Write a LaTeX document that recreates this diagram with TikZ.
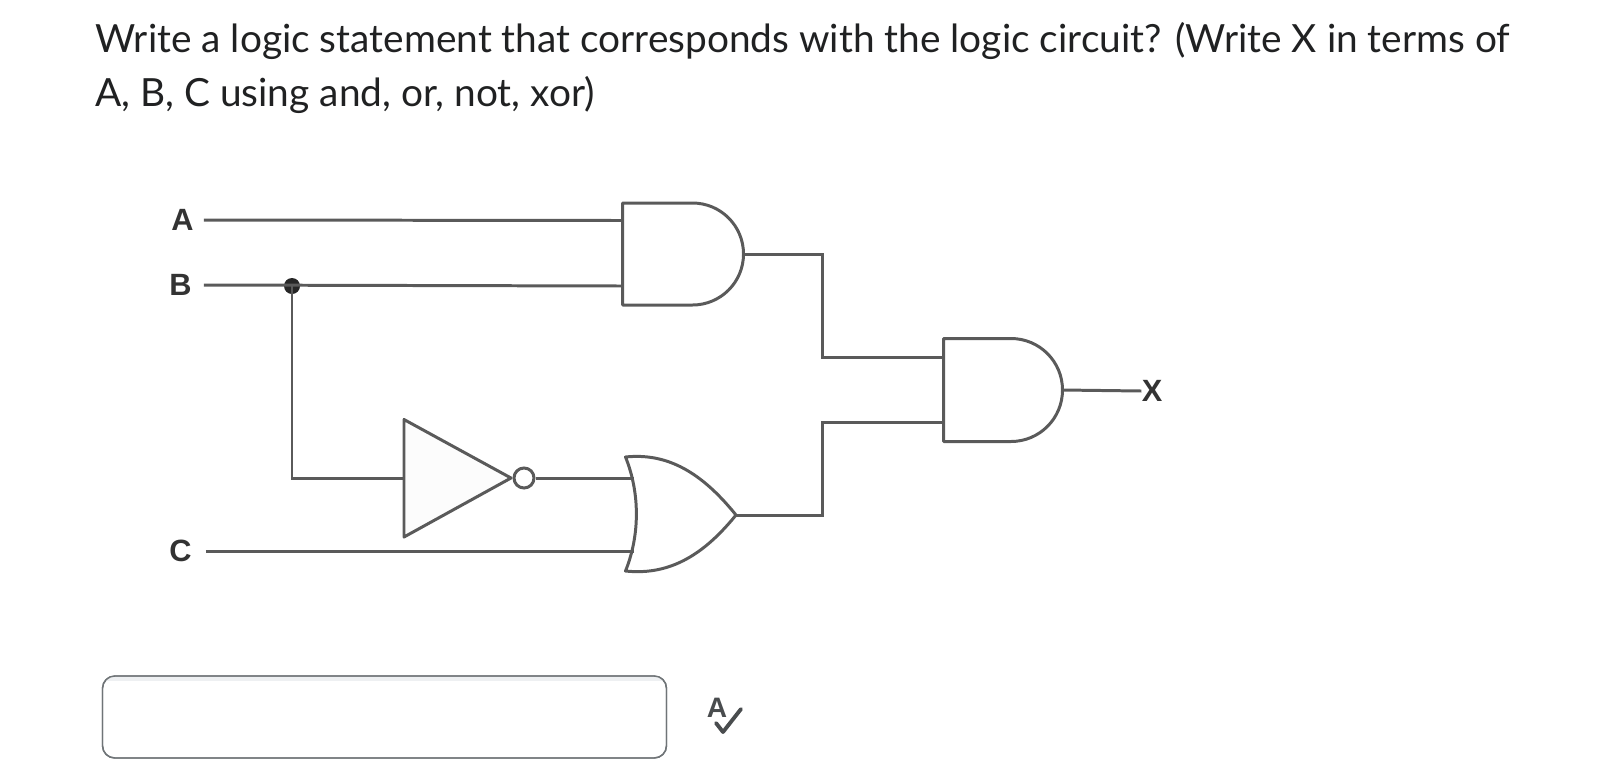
\documentclass[tikz,border=0pt]{standalone}
\usepackage{fontspec}
\setmainfont{Lato}
\newfontfamily\labelfont{Liberation Sans}
\usepackage{xcolor}
\definecolor{wirecol}{HTML}{5A5A5A}
\definecolor{inkcol}{HTML}{202122}
\definecolor{boxcol}{HTML}{6F7477}
\definecolor{shadecol}{HTML}{EEF0F2}
\definecolor{iconcol}{HTML}{494C4E}
\tikzset{
  wire/.style={color=wirecol, line width=1.7pt},
  gate/.style={color=wirecol, line width=1.7pt, line join=round},
  pinlabel/.style={font=\labelfont\bfseries\fontsize{17.5}{20}\selectfont, text=black!80, inner sep=0pt},
  question/.style={font=\fontsize{22.1}{26}\selectfont, text=inkcol, inner sep=0pt, anchor=base west}
}
\begin{document}
\begin{tikzpicture}[x=0.02cm,y=-0.02cm]
\useasboundingbox (0,0) rectangle (1608,768);

\node[question] (line1) at (95,52) {Write a logic statement that corresponds with the logic circuit? (Write X in terms of};
\node[question] (line2) at (95,106) {A, B, C using and, or, not, xor)};

\node[pinlabel] (a) at (182.5,220) {A};
\node[pinlabel] (b) at (180.5,285) {B};
\node[pinlabel] (c) at (180.5,551) {C};
\node[pinlabel] (x) at (1152,391) {X};

% first and gate
\draw[gate] (622.5,203) -- (692.5,203) arc (-90:90:51) -- (622.5,305) -- cycle;
\coordinate (and1a) at (622.5,220.5);
\coordinate (and1b) at (622.5,286);
\coordinate (and1y) at (743.5,254);

% second and gate
\draw[gate] (943.5,338.5) -- (1011,338.5) arc (-90:90:51.5) -- (943.5,441.5) -- cycle;
\coordinate (and2a) at (943.5,357);
\coordinate (and2b) at (943.5,422.5);
\coordinate (and2y) at (1062.5,390);

% or gate
\draw[gate] (625.5,457) .. controls (672,452) and (706,478) .. (736,515)
  .. controls (706,552) and (672,576) .. (625.5,571)
  .. controls (640,535) and (640,493) .. (625.5,457) -- cycle;
\coordinate (ora) at (634,478);
\coordinate (orb) at (634,551);
\coordinate (ory) at (736,515);

% inverter
\draw[gate, fill=black!1] (404,419.5) -- (511,478) -- (404,537) -- cycle;
\node[draw=wirecol, line width=1.7pt, fill=white, circle, inner sep=0pt, minimum size=11.4pt] (bubble) at (524,478) {};
\coordinate (nota) at (404,478);

\coordinate (jct) at (292,286);
\fill[black!85] (jct) circle (8);

\draw[wire] (a.east)++(10,0) -- (and1a);
\draw[wire] (b.east)++(12,0) -- (and1b);
\draw[wire] (c.east)++(14,0) -- (orb);
\draw[wire] (jct) |- (nota);
\draw[wire] (bubble) -- (ora);
\draw[wire] (and1y) -- (822.5,254) |- (and2a);
\draw[wire] (ory) -- (822.5,515) |- (and2b);
\draw[wire] (and2y) -- (x.west);

% answer box
\draw[color=boxcol, line width=0.8pt, rounded corners=7pt, fill=white] (102.5,676) rectangle (666.5,758);
\begin{scope}
\clip[rounded corners=7pt] (102.5,676) rectangle (666.5,758);
\fill[shadecol] (103,677) rectangle (666,681);
\end{scope}
\draw[color=boxcol, line width=0.8pt, rounded corners=7pt] (102.5,676) rectangle (666.5,758);

\node[font=\labelfont\bfseries\fontsize{16}{18}\selectfont, text=iconcol, inner sep=0pt] (icon) at (717,708) {A};
\draw[color=iconcol, line width=2.2pt, line cap=round, line join=round] (716,723) -- (723,732) -- (741,709);
\end{tikzpicture}
\end{document}
